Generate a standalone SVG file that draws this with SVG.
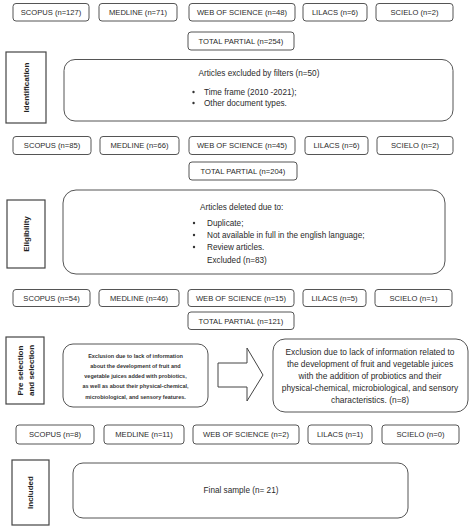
<svg xmlns="http://www.w3.org/2000/svg" width="474" height="529" viewBox="0 0 474 529">
<style>
  .src{fill:#fff;stroke:#555;stroke-width:1}
  .big{fill:#fff;stroke:#555;stroke-width:1}
  .stage{fill:#fff;stroke:#444;stroke-width:1.2}
  text{font-family:"Liberation Sans",Arial,sans-serif;fill:#2a2a2a}
  .t{font-size:7.6px;text-anchor:middle}
  .m{font-size:8.2px;text-anchor:middle}
  .l{font-size:8.2px}
  .s{font-size:8px;font-weight:bold;text-anchor:middle;fill:#222}
  .sm{font-size:5.5px;font-weight:bold;text-anchor:middle;fill:#333}
  .r{font-size:8.4px;text-anchor:middle}
</style>
<rect width="474" height="529" fill="#fff"/>

<!-- Row 1 -->
<g id="scopus1"><rect class="src" x="13" y="3.5" width="76" height="17.5" rx="3"/><text class="t" x="51" y="15">SCOPUS (n=127)</text></g>
<g id="medline1"><rect class="src" x="99" y="3.5" width="78" height="17.5" rx="3"/><text class="t" x="138" y="15">MEDLINE (n=71)</text></g>
<g id="wos1"><rect class="src" x="189" y="3.5" width="106" height="17.5" rx="3"/><text class="t" x="242" y="15">WEB OF SCIENCE (n=48)</text></g>
<g id="lilacs1"><rect class="src" x="303" y="3.5" width="64" height="17.5" rx="3"/><text class="t" x="335" y="15">LILACS (n=6)</text></g>
<g id="scielo1"><rect class="src" x="376" y="3.5" width="77" height="17.5" rx="3"/><text class="t" x="414.5" y="15">SCIELO  (n=2)</text></g>
<g id="total1"><rect class="src" x="188" y="32" width="106" height="18" rx="3"/><text class="t" x="241" y="43.5">TOTAL PARTIAL (n=254)</text></g>

<g id="identification"><rect class="stage" x="6" y="52" width="40" height="71"/><text class="s" transform="translate(29,87.5) rotate(-90)">Identification</text></g>
<g id="filters"><rect class="big" x="64" y="59.5" width="389" height="61.5" rx="11"/>
<text class="m" x="259" y="75.5">Articles excluded by filters (n=50)</text>
<circle cx="193.5" cy="92" r="1.2" fill="#333"/><text class="l" x="204" y="95">Time frame (2010 -2021);</text>
<circle cx="193.5" cy="103" r="1.2" fill="#333"/><text class="l" x="204" y="106">Other document types.</text>
</g>

<!-- Row 2 -->
<g id="scopus2"><rect class="src" x="13" y="136.5" width="78" height="18" rx="3"/><text class="t" x="52" y="148">SCOPUS (n=85)</text></g>
<g id="medline2"><rect class="src" x="100" y="136.5" width="79" height="18" rx="3"/><text class="t" x="139.5" y="148">MEDLINE (n=66)</text></g>
<g id="wos2"><rect class="src" x="189" y="136.5" width="106" height="18" rx="3"/><text class="t" x="242" y="148">WEB OF SCIENCE (n=45)</text></g>
<g id="lilacs2"><rect class="src" x="305" y="136.5" width="63" height="18" rx="3"/><text class="t" x="336.5" y="148">LILACS (n=6)</text></g>
<g id="scielo2"><rect class="src" x="377" y="136.5" width="76" height="18" rx="3"/><text class="t" x="415" y="148">SCIELO  (n=2)</text></g>
<g id="total2"><rect class="src" x="189" y="162" width="108" height="18" rx="3"/><text class="t" x="243" y="173.5">TOTAL PARTIAL (n=204)</text></g>

<g id="eligibility"><rect class="stage" x="7" y="200" width="38" height="68"/><text class="s" transform="translate(29,234) rotate(-90)">Eligibility</text></g>
<g id="deleted"><rect class="big" x="63" y="190" width="382" height="84" rx="13"/>
<text class="l" x="200" y="209.5">Articles deleted due to:</text>
<circle cx="194" cy="223" r="1.2" fill="#333"/><text class="l" x="207" y="226">Duplicate;</text>
<circle cx="194" cy="235" r="1.2" fill="#333"/><text class="l" x="207" y="238">Not available in full in the english language;</text>
<circle cx="194" cy="247" r="1.2" fill="#333"/><text class="l" x="207" y="250">Review articles.</text>
<text class="l" x="207" y="262.5">Excluded (n=83)</text>
</g>

<!-- Row 3 -->
<g id="scopus3"><rect class="src" x="13" y="289.5" width="77" height="17" rx="3"/><text class="t" x="51.5" y="300.5">SCOPUS (n=54)</text></g>
<g id="medline3"><rect class="src" x="99" y="289.5" width="80" height="17" rx="3"/><text class="t" x="139" y="300.5">MEDLINE (n=46)</text></g>
<g id="wos3"><rect class="src" x="188" y="289.5" width="106" height="17" rx="3"/><text class="t" x="241" y="300.5">WEB OF SCIENCE (n=15)</text></g>
<g id="lilacs3"><rect class="src" x="303" y="289.5" width="63" height="17" rx="3"/><text class="t" x="334.5" y="300.5">LILACS (n=5)</text></g>
<g id="scielo3"><rect class="src" x="375" y="289.5" width="77" height="17" rx="3"/><text class="t" x="413.5" y="300.5">SCIELO  (n=1)</text></g>
<g id="total3"><rect class="src" x="188" y="312" width="106" height="17.5" rx="3"/><text class="t" x="241" y="323.5">TOTAL PARTIAL (n=121)</text></g>

<g id="preselection"><rect class="stage" x="6" y="337" width="38" height="67"/>
<text class="s" transform="translate(23,370.5) rotate(-90)">Pre selection</text>
<text class="s" transform="translate(34,370.5) rotate(-90)">and selection</text></g>
<g id="exclusion1"><rect class="big" x="63" y="344" width="145" height="63" rx="10"/>
<text class="sm" x="135.5" y="358">Exclusion due to lack of information</text>
<text class="sm" x="135.5" y="368">about the development of fruit and</text>
<text class="sm" x="135.5" y="378">vegetable juices added with probiotics,</text>
<text class="sm" x="135.5" y="388">as well as about their physical-chemical,</text>
<text class="sm" x="135.5" y="398.5">microbiological, and sensory features.</text>
</g>
<g id="exclusion2"><rect class="big" x="273" y="339" width="195" height="73" rx="12"/>
<text class="r" x="370" y="355">Exclusion due to lack of information related to</text>
<text class="r" x="370" y="367">the development of fruit and vegetable juices</text>
<text class="r" x="370" y="379">with the addition of probiotics and their</text>
<text class="r" x="370" y="391">physical-chemical, microbiological, and sensory</text>
<text class="r" x="370" y="403">characteristics. (n=8)</text>
</g>

<!-- Row 4 -->
<g id="scopus4"><rect class="src" x="16" y="425" width="78" height="19" rx="3"/><text class="t" x="55" y="437">SCOPUS (n=8)</text></g>
<g id="medline4"><rect class="src" x="104" y="425" width="80" height="19" rx="3"/><text class="t" x="144" y="437">MEDLINE (n=11)</text></g>
<g id="wos4"><rect class="src" x="193" y="425" width="106" height="19" rx="3"/><text class="t" x="246" y="437">WEB OF SCIENCE (n=2)</text></g>
<g id="lilacs4"><rect class="src" x="308" y="425" width="64" height="19" rx="3"/><text class="t" x="340" y="437">LILACS (n=1)</text></g>
<g id="scielo4"><rect class="src" x="382" y="425" width="77" height="19" rx="3"/><text class="t" x="420.5" y="437">SCIELO  (n=0)</text></g>

<g id="included"><rect class="stage" x="12" y="460" width="37" height="65"/><text class="s" transform="translate(33,492.5) rotate(-90)">Included</text></g>
<g id="final"><rect class="big" x="73" y="463" width="335" height="55" rx="10"/><text class="m" x="241" y="493">Final sample (n= 21)</text></g>

<g id="connectors">
<path d="M218,363 L247,363 L247,348 L263,375 L247,401 L247,387 L218,387 Z" fill="#fff" stroke="#444" stroke-width="1"/>
</g>
</svg>
